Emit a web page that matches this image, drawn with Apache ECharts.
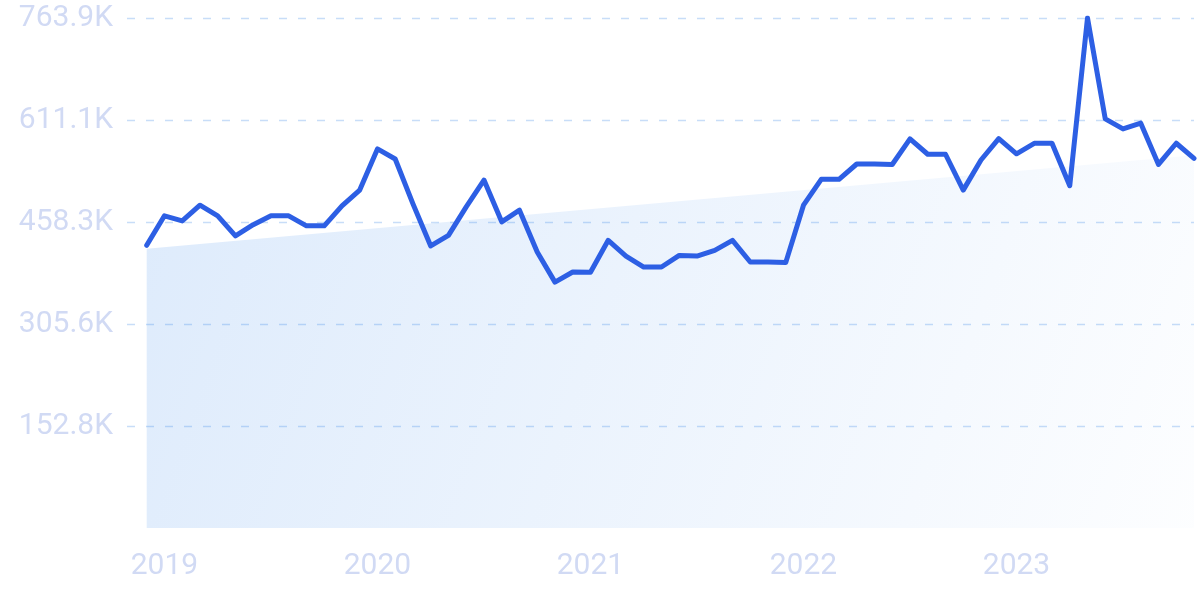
<!DOCTYPE html>
<html>
<head>
<meta charset="utf-8">
<script src="https://cdn.jsdelivr.net/npm/echarts@6/dist/echarts.min.js"></script>
<style>
html,body{margin:0;padding:0;background:#fff;}
#chart{width:1200px;height:600px;}
</style>
</head>
<body>
<div id="chart"></div>
<script>
// Months (index 0 = Dec 2018)
const categories = [
  '2018-12',
  '2019-01','2019-02','2019-03','2019-04','2019-05','2019-06','2019-07','2019-08','2019-09','2019-10','2019-11','2019-12',
  '2020-01','2020-02','2020-03','2020-04','2020-05','2020-06','2020-07','2020-08','2020-09','2020-10','2020-11','2020-12',
  '2021-01','2021-02','2021-03','2021-04','2021-05','2021-06','2021-07','2021-08','2021-09','2021-10','2021-11','2021-12',
  '2022-01','2022-02','2022-03','2022-04','2022-05','2022-06','2022-07','2022-08','2022-09','2022-10','2022-11','2022-12',
  '2023-01','2023-02','2023-03','2023-04','2023-05','2023-06','2023-07','2023-08','2023-09','2023-10','2023-11'
];
const searchVolume = [
  423400,
  467600, 460000, 483500, 467600, 437500, 454300, 467600, 467600, 452600, 452600, 482600, 506100,
  567800, 552700, 485600, 422500, 438400, 481100, 521100, 458600, 476000, 413500, 368300, 383400,
  383000, 430900, 407400, 390900, 390900, 408300, 407400, 415900, 430900, 398400, 398400, 397500,
  483500, 522200, 522200, 545200, 545200, 544500, 582800, 559800, 559800, 506100, 551200, 583300,
  560500, 576200, 576300, 512700, 763900, 612900, 597800, 606400, 544500, 576300, 553700
];
// Trend line end values (read from the shaded area)
const trendValues = [418400, 558300];
// X tick labels (placed at January of each year)
const xTickLabels = ['2019', '2020', '2021', '2022', '2023'];
const yMax = 763900;

const lineData = searchVolume.map((v, i) => [i, v]);
const trendData = [[0, trendValues[0]], [categories.length - 1, trendValues[1]]];
const xTickPositions = xTickLabels.map(y => categories.indexOf(y + '-01'));

const chart = echarts.init(document.getElementById('chart'), null, {renderer: 'canvas'});
const labelColor = '#d1daf4';
const fontFamily = 'Roboto, "Liberation Sans", sans-serif';

chart.setOption({
  animation: false,
  backgroundColor: '#ffffff',
  grid: {left: 127, right: 6, top: 18, bottom: 72, containLabel: false},
  xAxis: {
    type: 'value',
    min: -1.11,
    max: categories.length - 1,
    axisLine: {show: false},
    axisTick: {show: false},
    splitLine: {show: false},
    axisLabel: {
      customValues: xTickPositions,
      formatter: v => categories[Math.round(v)].slice(0, 4),
      color: labelColor,
      fontSize: 30,
      fontFamily: fontFamily,
      margin: 23
    }
  },
  yAxis: {
    type: 'value',
    min: 0,
    max: yMax,
    interval: yMax / 5,
    axisLine: {show: false},
    axisTick: {show: false},
    axisLabel: {
      showMinLabel: false,
      formatter: v => (v / 1000).toFixed(1) + 'K',
      color: labelColor,
      fontSize: 30,
      fontFamily: fontFamily,
      margin: 14
    },
    splitLine: {
      show: true,
      showMinLine: false,
      lineStyle: {color: '#c8ddf8', width: 1.4, type: [8, 11]}
    }
  },
  series: [
    {
      type: 'line',
      data: trendData,
      symbol: 'none',
      silent: true,
      lineStyle: {width: 0, opacity: 0},
      areaStyle: {
        opacity: 1,
        color: new echarts.graphic.LinearGradient(0, 0, 1, 1, [
          {offset: 0, color: 'rgba(56,136,236,0.17)'},
          {offset: 1, color: 'rgba(56,136,236,0.01)'}
        ])
      },
      z: 1
    },
    {
      type: 'line',
      data: lineData,
      symbol: 'none',
      smooth: false,
      lineStyle: {color: '#2d5fe4', width: 5, cap: 'round', join: 'round'},
      z: 3
    }
  ]
});
</script>
</body>
</html>
